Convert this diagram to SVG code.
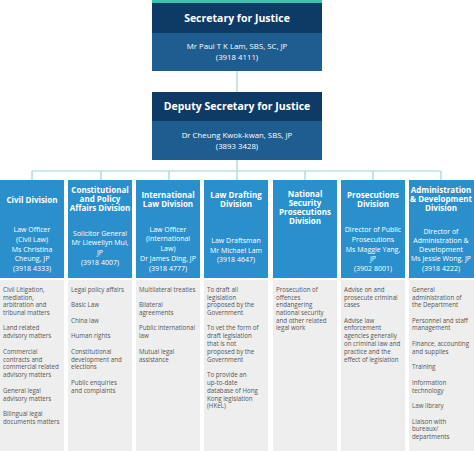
<svg xmlns="http://www.w3.org/2000/svg" width="474" height="451" viewBox="0 0 474 451">
<style>
.hd{fill:#0e3a66}.bd{fill:#1f5d91}
.t1{font:bold 10.5px "Open Sans",sans-serif;fill:#fff;text-anchor:middle}
.t2{font:7.8px "Open Sans",sans-serif;fill:#fff;text-anchor:middle}
.dv{fill:#2b8fcc}.gr{fill:#eeeeee}
.dh{font:bold 8px "Open Sans",sans-serif;fill:#fff;text-anchor:middle}
.dd{font:7px "Open Sans",sans-serif;fill:#fff;text-anchor:middle}
.bt{font:6.2px "Open Sans",sans-serif;fill:#555}
.ln{stroke:#9fd8d0;stroke-width:1.2;fill:none}
</style>
<rect width="474" height="451" fill="#fff"/>
<g id="connectors">
<path class="ln" d="M237 71V92M237 160V171M32 171H441M32 171V180M101 171V180M169 171V180M237 171V180M305 171V180M373 171V180M441 171V180"/>
</g>
<g id="sec">
<rect x="152" y="0" width="170" height="3" fill="#3cc3b0"/>
<rect class="hd" x="152" y="3" width="170" height="30"/>
<rect class="bd" x="152" y="33" width="170" height="38"/>
<text class="t1" x="237" y="22">Secretary for Justice</text>
<text class="t2" x="237" y="49">Mr Paul T K Lam, SBS, SC, JP</text>
<text class="t2" x="237" y="60">(3918 4111)</text>
</g>
<g id="dep">
<rect class="hd" x="152" y="92" width="170" height="29"/>
<rect class="bd" x="152" y="121" width="170" height="39"/>
<text class="t1" x="237" y="110">Deputy Secretary for Justice</text>
<text class="t2" x="237" y="138">Dr Cheung Kwok-kwan, SBS, JP</text>
<text class="t2" x="237" y="149">(3893 3428)</text>
</g>
<g id="civil">
<rect class="dv" x="0" y="180" width="64" height="98"/><rect class="gr" x="0" y="280" width="64" height="171"/>
<text class="dh" x="32" y="203">Civil Division</text>
<text class="dd" x="32" y="232">Law Officer</text><text class="dd" x="32" y="242">(Civil Law)</text><text class="dd" x="32" y="252">Ms Christina</text><text class="dd" x="32" y="261">Cheung, JP</text><text class="dd" x="32" y="271">(3918 4333)</text>
<text class="bt" x="3"><tspan x="3" y="292">Civil Litigation,</tspan><tspan x="3" y="299.5">mediation,</tspan><tspan x="3" y="307">arbitration and</tspan><tspan x="3" y="315">tribunal matters</tspan><tspan x="3" y="330">Land related</tspan><tspan x="3" y="338">advisory matters</tspan><tspan x="3" y="354">Commercial</tspan><tspan x="3" y="361.5">contracts and</tspan><tspan x="3" y="369">commercial related</tspan><tspan x="3" y="377">advisory matters</tspan><tspan x="3" y="393">General legal</tspan><tspan x="3" y="400.5">advisory matters</tspan><tspan x="3" y="416">Bilingual legal</tspan><tspan x="3" y="424">documents matters</tspan></text>
</g>
<g id="const">
<rect class="dv" x="68" y="180" width="64" height="98"/><rect class="gr" x="68" y="280" width="64" height="171"/>
<text class="dh" x="100" y="193">Constitutional</text><text class="dh" x="100" y="202">and Policy</text><text class="dh" x="100" y="211">Affairs Division</text>
<text class="dd" x="100" y="236">Solicitor General</text><text class="dd" x="100" y="245">Mr Llewellyn Mui,</text><text class="dd" x="100" y="255">JP</text><text class="dd" x="100" y="265">(3918 4007)</text>
<text class="bt"><tspan x="71" y="292">Legal policy affairs</tspan><tspan x="71" y="307">Basic Law</tspan><tspan x="71" y="323">China law</tspan><tspan x="71" y="338">Human rights</tspan><tspan x="71" y="354">Constitutional</tspan><tspan x="71" y="361.5">development and</tspan><tspan x="71" y="369">elections</tspan><tspan x="71" y="385">Public enquiries</tspan><tspan x="71" y="393">and complaints</tspan></text>
</g>
<g id="intl">
<rect class="dv" x="136" y="180" width="64" height="98"/><rect class="gr" x="136" y="280" width="64" height="171"/>
<text class="dh" x="168" y="198">International</text><text class="dh" x="168" y="207">Law Division</text>
<text class="dd" x="168" y="232">Law Officer</text><text class="dd" x="168" y="241">(International</text><text class="dd" x="168" y="251">Law)</text><text class="dd" x="168" y="261">Dr James Ding, JP</text><text class="dd" x="168" y="271">(3918 4777)</text>
<text class="bt"><tspan x="139" y="292">Multilateral treaties</tspan><tspan x="139" y="307">Bilateral</tspan><tspan x="139" y="315">agreements</tspan><tspan x="139" y="330">Public international</tspan><tspan x="139" y="338">law</tspan><tspan x="139" y="354">Mutual legal</tspan><tspan x="139" y="361.5">assistance</tspan></text>
</g>
<g id="draft">
<rect class="dv" x="204" y="180" width="64" height="98"/><rect class="gr" x="204" y="280" width="64" height="171"/>
<text class="dh" x="236" y="198">Law Drafting</text><text class="dh" x="236" y="207">Division</text>
<text class="dd" x="236" y="243">Law Draftsman</text><text class="dd" x="236" y="253">Mr Michael Lam</text><text class="dd" x="236" y="262">(3918 4647)</text>
<text class="bt"><tspan x="207" y="292">To draft all</tspan><tspan x="207" y="299.5">legislation</tspan><tspan x="207" y="307">proposed by the</tspan><tspan x="207" y="315">Government</tspan><tspan x="207" y="330">To vet the form of</tspan><tspan x="207" y="338">draft legislation</tspan><tspan x="207" y="346">that is not</tspan><tspan x="207" y="354">proposed by the</tspan><tspan x="207" y="361.5">Government</tspan><tspan x="207" y="377">To provide an</tspan><tspan x="207" y="385">up-to-date</tspan><tspan x="207" y="393">database of Hong</tspan><tspan x="207" y="400.5">Kong legislation</tspan><tspan x="207" y="408">(HKeL)</tspan></text>
</g>
<g id="nsec">
<rect class="dv" x="273" y="180" width="64" height="98"/><rect class="gr" x="273" y="280" width="64" height="171"/>
<text class="dh" x="305" y="197">National</text><text class="dh" x="305" y="206">Security</text><text class="dh" x="305" y="215">Prosecutions</text><text class="dh" x="305" y="224">Division</text>
<text class="bt"><tspan x="276" y="292">Prosecution of</tspan><tspan x="276" y="299.5">offences</tspan><tspan x="276" y="307">endangering</tspan><tspan x="276" y="315">national security</tspan><tspan x="276" y="323">and other related</tspan><tspan x="276" y="330">legal work</tspan></text>
</g>
<g id="pros">
<rect class="dv" x="341" y="180" width="64" height="98"/><rect class="gr" x="341" y="280" width="64" height="171"/>
<text class="dh" x="373" y="198">Prosecutions</text><text class="dh" x="373" y="207">Division</text>
<text class="dd" x="373" y="232">Director of Public</text><text class="dd" x="373" y="242">Prosecutions</text><text class="dd" x="373" y="252">Ms Maggie Yang,</text><text class="dd" x="373" y="261">JP</text><text class="dd" x="373" y="271">(3902 8001)</text>
<text class="bt"><tspan x="344" y="292">Advise on and</tspan><tspan x="344" y="299.5">prosecute criminal</tspan><tspan x="344" y="307">cases</tspan><tspan x="344" y="323">Advise law</tspan><tspan x="344" y="330">enforcement</tspan><tspan x="344" y="338">agencies generally</tspan><tspan x="344" y="346">on criminal law and</tspan><tspan x="344" y="354">practice and the</tspan><tspan x="344" y="361.5">effect of legislation</tspan></text>
</g>
<g id="admin">
<rect class="dv" x="409" y="180" width="65" height="98"/><rect class="gr" x="409" y="280" width="65" height="171"/>
<text class="dh" x="441" y="193">Administration</text><text class="dh" x="441" y="202">&amp; Development</text><text class="dh" x="441" y="211">Division</text>
<text class="dd" x="441" y="234">Director of</text><text class="dd" x="441" y="243">Administration &amp;</text><text class="dd" x="441" y="252">Development</text><text class="dd" x="441" y="261">Ms Jessie Wong, JP</text><text class="dd" x="441" y="271">(3918 4222)</text>
<text class="bt"><tspan x="412" y="292">General</tspan><tspan x="412" y="299.5">administration of</tspan><tspan x="412" y="307">the Department</tspan><tspan x="412" y="323">Personnel and staff</tspan><tspan x="412" y="330">management</tspan><tspan x="412" y="346">Finance, accounting</tspan><tspan x="412" y="354">and supplies</tspan><tspan x="412" y="369">Training</tspan><tspan x="412" y="385">Information</tspan><tspan x="412" y="393">technology</tspan><tspan x="412" y="408">Law library</tspan><tspan x="412" y="424">Liaison with</tspan><tspan x="412" y="431">bureaux/</tspan><tspan x="412" y="439">departments</tspan></text>
</g>
</svg>
